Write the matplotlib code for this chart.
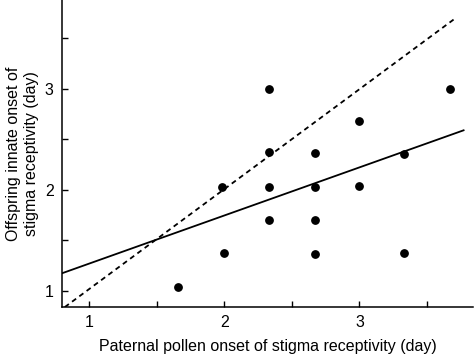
import numpy as np
import matplotlib
matplotlib.use('Agg')
import matplotlib.pyplot as plt

# data
paternal = [2.33, 3.67, 3.00, 2.33, 2.67, 3.33, 1.98, 2.33, 2.67, 3.00,
            2.33, 2.67, 2.00, 2.67, 3.33, 1.66]
offspring = [3.00, 3.00, 2.68, 2.38, 2.37, 2.36, 2.03, 2.03, 2.03, 2.04,
             1.70, 1.70, 1.38, 1.37, 1.38, 1.04]

# regression line and 1:1 line end points
fit_x = [0.80, 3.77]
fit_y = [1.175, 2.59]
one_x = [0.82, 3.71]
one_y = [0.84, 3.70]

plt.rcParams['font.family'] = ['Liberation Sans', 'DejaVu Sans']

fig = plt.figure(figsize=(4.74, 3.55), dpi=100)
ax = fig.add_axes([0.131, 0.135, 0.867, 0.865])

ax.scatter(paternal, offspring, s=28, color='black', zorder=3)
ax.plot(fit_x, fit_y, color='black', linewidth=1.3)
ax.plot(one_x, one_y, color='black', linewidth=1.3, linestyle=(0, (2.8, 2.2)))

ax.set_xlim(0.8, 3.84)
ax.set_ylim(0.84, 3.88)

ax.set_xticks(np.arange(1, 4, 0.5))
ax.set_xticklabels(['1', '', '2', '', '3', ''])
ax.set_yticks(np.arange(1, 4, 0.5))
ax.set_yticklabels(['1', '', '2', '', '3', ''])
ax.tick_params(direction='in', length=4.5, width=1, labelsize=11.5, pad=6)

for side in ['top', 'right']:
    ax.spines[side].set_visible(False)
for side in ['left', 'bottom']:
    ax.spines[side].set_linewidth(1.1)

ax.set_xlabel('Paternal pollen onset of stigma receptivity (day)', fontsize=11.5, labelpad=6)
ax.set_ylabel('Offspring innate onset of\nstigma receptivity (day)', fontsize=11.5,
              labelpad=4, linespacing=1.3)

fig.savefig('out.png', dpi=100)
